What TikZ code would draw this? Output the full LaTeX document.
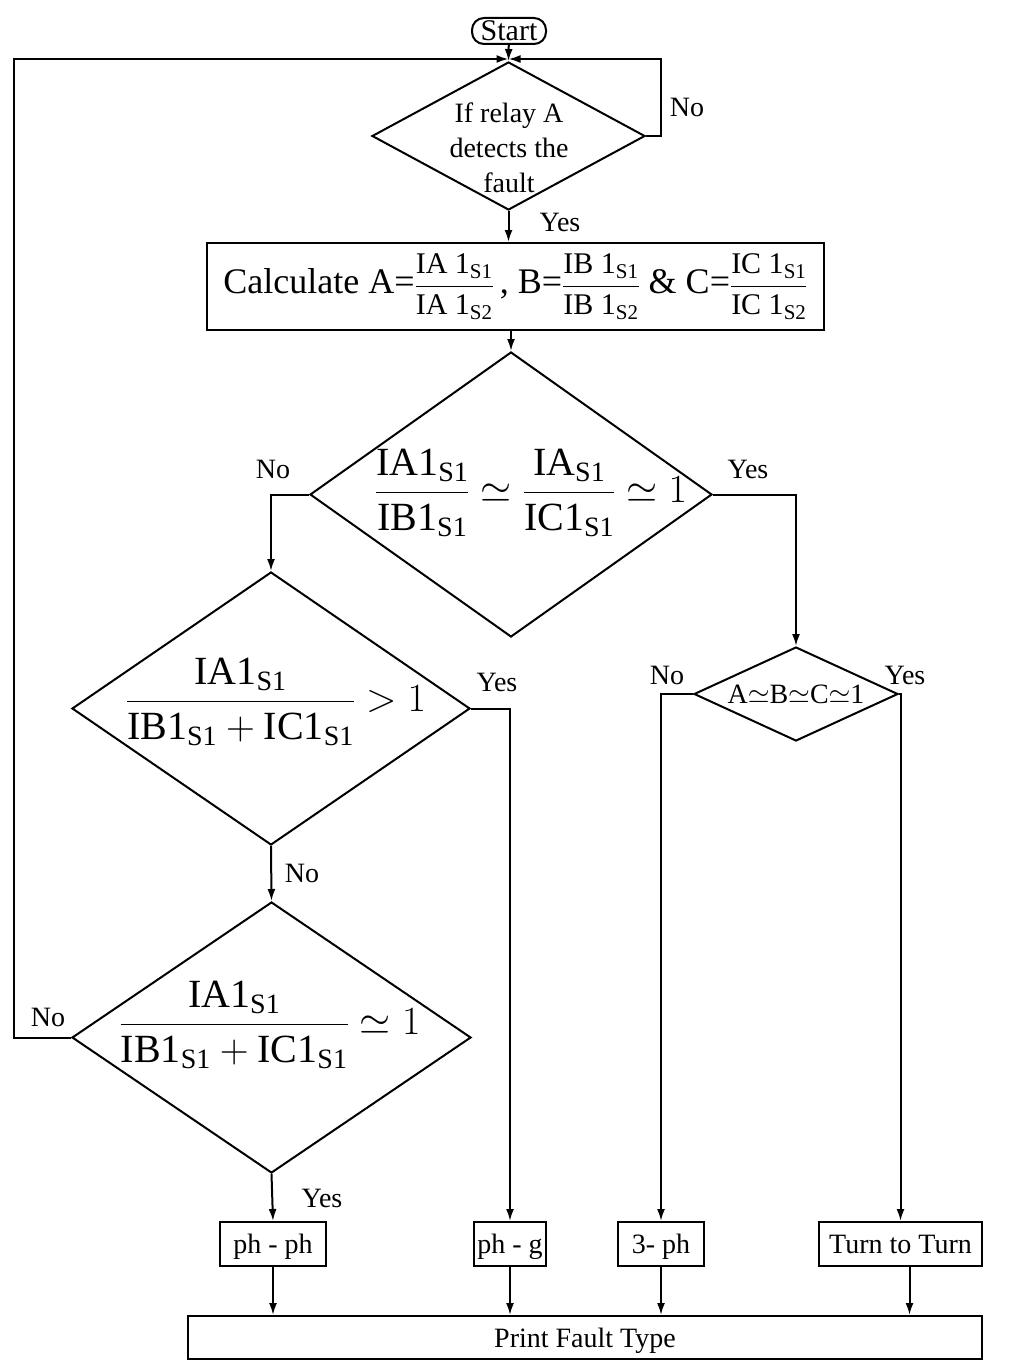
\RequirePackage{fix-cm}
\documentclass[tikz,border=0pt]{standalone}
\usepackage{amsmath}
\usepackage{fontspec}
\setmainfont{Liberation Serif}
\usetikzlibrary{shapes.geometric,arrows.meta}
\newcommand{\calcfrac}[2]{{\fontsize{30}{34}\selectfont$\dfrac{\text{#1}_{\text{S1}}}{\text{#2}_{\text{S2}}}$}}
\begin{document}
\begin{tikzpicture}[x=1pt,y=-1pt,
  line width=2pt,
  arr/.style={-{Latex[length=12pt,width=8pt]}},
  dia/.style={draw,diamond,inner sep=0pt},
  box/.style={draw,rectangle,inner sep=0pt},
  lab/.style={font=\fontsize{28}{35}\selectfont,inner sep=0pt,align=center},
  bigmath/.style={font=\fontsize{40}{48}\selectfont,inner sep=0pt},
  boxtext/.style={box,font=\fontsize{28}{34}\selectfont,text depth=0pt}]
\useasboundingbox (0,0) rectangle (1012,1362);

% nodes
\node[draw,rounded corners=12pt,minimum width=74pt,minimum height=26pt,inner sep=0pt,font=\fontsize{30}{30}\selectfont] (start) at (509,31) {Start};
\node[dia,minimum width=273pt,minimum height=148pt] (d1) at (508.5,136) {};
\node[lab] (t1) at (509,148) {If relay A\\detects the\\fault};
\node[box,minimum width=617pt,minimum height=87pt,font=\fontsize{36}{42}\selectfont] (calc) at (515.5,286.5)
  {Calculate A=\calcfrac{IA 1}{IA 1}\,, B=\calcfrac{IB 1}{IB 1} \& C=\calcfrac{IC 1}{IC 1}};
\node[dia,minimum width=402pt,minimum height=285pt] (d2) at (511,494.5) {};
\node[bigmath] (t2) at (531,493) {$\dfrac{\text{IA1}_{\text{S1}}}{\text{IB1}_{\text{S1}}}\simeq\dfrac{\text{IA}_{\text{S1}}}{\text{IC1}_{\text{S1}}}\simeq 1$};
\node[dia,minimum width=398pt,minimum height=273pt] (d3) at (271,708.5) {};
\node[bigmath] (t3) at (276,702) {$\dfrac{\text{IA1}_{\text{S1}}}{\text{IB1}_{\text{S1}}+\text{IC1}_{\text{S1}}}>1$};
\node[dia,minimum width=204pt,minimum height=94pt] (d4) at (796,694) {};
\node[lab] (t4) at (796,694) {A$\simeq$B$\simeq$C$\simeq$1};
\node[dia,minimum width=399pt,minimum height=271pt] (d5) at (271.5,1037.5) {};
\node[bigmath] (t5) at (270,1025) {$\dfrac{\text{IA1}_{\text{S1}}}{\text{IB1}_{\text{S1}}+\text{IC1}_{\text{S1}}}\simeq 1$};

\node[boxtext,minimum width=106pt,minimum height=44pt] (phph) at (273,1244) {ph - ph};
\node[boxtext,minimum width=72pt,minimum height=44pt] (phg) at (510,1244) {ph - g};
\node[boxtext,minimum width=86pt,minimum height=44pt] (three) at (661,1244) {3- ph};
\node[boxtext,minimum width=163pt,minimum height=44pt] (turn) at (900.5,1244) {Turn to Turn};
\node[boxtext,minimum width=794pt,minimum height=43pt] (print) at (585,1337.5) {Print Fault Type};

% labels
\node[lab] (l1n) at (687,107) {No};
\node[lab] (l1y) at (560,222) {Yes};
\node[lab] (l2n) at (273,469) {No};
\node[lab] (l2y) at (748,469) {Yes};
\node[lab] (l3y) at (497,682) {Yes};
\node[lab] (l3n) at (302,873) {No};
\node[lab] (l5n) at (48,1017) {No};
\node[lab] (l5y) at (322,1198) {Yes};
\node[lab] (l4n) at (667,675) {No};
\node[lab] (l4y) at (905,675) {Yes};

% connectors
\coordinate (j) at ([yshift=2pt]d1.north);
\draw[arr] (start) -- (d1.north);
\draw[arr] (d1.east) -- ++(15,0) |- (j);
\draw[arr] (d5.west) -- ++(-57,0) |- (j);
\draw[arr] (d1.south) -- (d1.south |- calc.north);
\draw[arr] (d2.north |- calc.south) -- (d2.north);
\draw[arr] (d2.west) -| (d3.north);
\draw[arr] (d2.east) -| (d4.north);
\draw[arr] (d3.east) -| (phg.north);
\draw[arr] (d3.south) -- (d5.north);
\draw[arr] (d5.south) -- (phph.north);
\draw[arr] (d4.west) -| (three.north);
\draw[arr] (d4.east) -| (turn.north);
\draw[arr] (phph.south) -- (phph.south |- print.north);
\draw[arr] (phg.south) -- (phg.south |- print.north);
\draw[arr] (three.south) -- (three.south |- print.north);
\draw[arr] ([xshift=9pt]turn.south) -- ([xshift=9pt]turn.south |- print.north);
\end{tikzpicture}
\end{document}
